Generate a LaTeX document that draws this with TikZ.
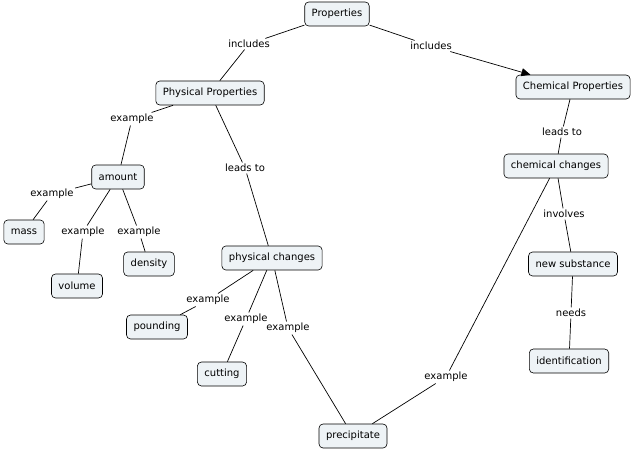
\documentclass[tikz,border=0pt]{standalone}
\usepackage{fontspec}
\setmainfont{DejaVu Sans}
\usetikzlibrary{arrows.meta}
\definecolor{cfill}{HTML}{EEF3F6}
\tikzset{
 concept/.style={draw=black, fill=cfill, rounded corners=4pt, inner xsep=7pt, minimum height=24pt, font=\fontsize{10}{12}\selectfont, line width=0.6pt},
 lbl/.style={fill=white, inner sep=1.5pt, font=\fontsize{10}{12}\selectfont},
 con/.style={line width=0.7pt},
}
\begin{document}
\begin{tikzpicture}[x=1pt,y=-1pt]
\useasboundingbox (0,0) rectangle (644,452);
\node[concept] (prop) at (337,14) {Properties};
\node[concept] (phys) at (210,93) {Physical Properties};
\node[concept] (chem) at (573,87) {Chemical Properties};
\node[concept] (amount) at (118,177) {amount};
\node[concept] (mass) at (24,232) {mass};
\node[concept] (volume) at (77,286) {volume};
\node[concept] (density) at (149,264) {density};
\node[concept] (pchg) at (272,258) {physical changes};
\node[concept] (pound) at (157,327) {pounding};
\node[concept] (cut) at (222,374) {cutting};
\node[concept] (prec) at (353,436) {precipitate};
\node[concept] (cchg) at (556,166) {chemical changes};
\node[concept] (news) at (573,264) {new substance};
\node[concept] (ident) at (569,361) {identification};

\node[lbl] (l1) at (249,44) {includes};
\node[lbl] (l2) at (431,46) {includes};
\node[lbl] (l3) at (132,119) {example};
\node[lbl] (l4) at (245,168) {leads to};
\node[lbl] (l5) at (562,132) {leads to};
\node[lbl] (l6) at (52,194) {example};
\node[lbl] (l7) at (83,232) {example};
\node[lbl] (l8) at (139,232) {example};
\node[lbl] (l9) at (208,300) {example};
\node[lbl] (l10) at (246,319) {example};
\node[lbl] (l11) at (288,328) {example};
\node[lbl] (l12) at (446,377) {example};
\node[lbl] (l13) at (564,214) {involves};
\node[lbl] (l14) at (571,313) {needs};

\draw[con] (prop) -- (l1) -- (phys);
\draw[con] (prop) -- (l2);
\draw[con,-{Triangle[length=9pt,width=8pt]}] (l2) -- (chem);
\draw[con] (phys) -- (l3) -- (amount);
\draw[con] (phys) -- (l4) -- (pchg);
\draw[con] (chem) -- (l5) -- (cchg);
\draw[con] (amount) -- (l6) -- (mass);
\draw[con] (amount) -- (l7) -- (volume);
\draw[con] (amount) -- (l8) -- (density);
\draw[con] (pchg) -- (l9) -- (pound);
\draw[con] (pchg) -- (l10) -- (cut);
\draw[con] (pchg) -- (l11) -- (prec);
\draw[con] (cchg) -- (l12) -- (prec);
\draw[con] (cchg) -- (l13) -- (news);
\draw[con] (news) -- (l14) -- (ident);
\end{tikzpicture}
\end{document}
